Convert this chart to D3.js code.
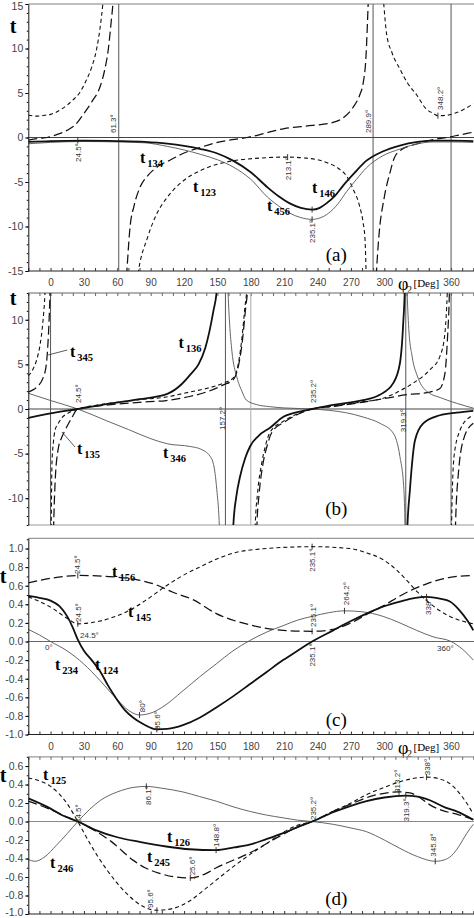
<!DOCTYPE html>
<html>
<head>
<meta charset="utf-8">
<script src="https://cdn.jsdelivr.net/npm/d3@7/dist/d3.min.js"></script>
<style>
  html, body { margin: 0; padding: 0; background: #fff; }
  svg { display: block; }
</style>
</head>
<body>
<div id="chart"></div>
<script>
// ---- data: [phi2 in degrees, t] ----
const xTickVals = [0, 30, 60, 90, 120, 150, 180, 210, 240, 270, 300, 360];

// panel (a)
const a_t123_1 = [[-20,2.5],[-12,2.4],[-5,2.5],[0,2.6],[10,3.2],[20,4.2],[26,5.0],[32,6.4],[37,7.9],[41.5,10],[44.5,12.3],[47,15],[50,19.5]];
const a_t123_2 = [[74,-20],[79,-15],[87,-11.3],[95,-8.7],[105,-6.7],[120,-4.8],[135,-3.7],[150,-3.0],[165,-2.6],[190,-2.3],[213.1,-2.2],[228,-2.3],[240,-2.5],[250,-2.9],[258,-3.4],[266.4,-4.4],[272,-5.8],[278,-7.8],[281,-9.6],[282.7,-11.5],[283.6,-15],[284.3,-19]];
const a_t123_3 = [[297,19],[299.5,15],[302,11.7],[307,9.5],[314,7.7],[321,6.1],[329,4.8],[337,3.3],[344,2.7],[348.2,2.45],[356,2.5],[365,2.8],[372,3.2],[380,3.8]];
const a_t134_1 = [[-20,-0.3],[-10,-0.1],[-3,0],[5,0.3],[14.8,0.8],[22,1.4],[29.4,2.6],[37,4.0],[44.5,5.7],[48.5,7.5],[52,10],[54.5,13],[56,15],[58,20]];
const a_t134_2 = [[66,-20],[68.6,-15],[71.5,-10],[75,-7.7],[80.4,-5.6],[88,-4.2],[96,-3.3],[108,-2.5],[119,-1.8],[135,-1.1],[150,-0.55],[163,-0.25],[176.6,0],[195,0.55],[210,1.0],[235,1.35],[254,1.7],[264,2.3],[272,3.4],[278,4.8],[281,6.1],[283.5,9],[285.5,15],[287,20]];
const a_t134_3 = [[291,-20],[293,-15],[295,-11.3],[300,-6.7],[305,-4],[309,-2.3],[315,-1.4],[330,-0.7],[345,-0.2],[356,0],[368,0.3],[380,0.6]];
const a_t146 = [[-20,-0.5],[0,-0.4],[30,-0.35],[60,-0.4],[85,-0.5],[105,-0.7],[120,-0.95],[135,-1.3],[150,-1.8],[164,-2.6],[180,-3.9],[195,-5.6],[205,-6.6],[215,-7.4],[225,-7.9],[235.1,-8.1],[242,-7.9],[248,-7.4],[256,-6.5],[263,-5.4],[273,-4.0],[284,-2.6],[298,-1.6],[314,-0.9],[330,-0.5],[345,-0.35],[360,-0.35],[380,-0.4]];
const a_t456 = [[-20,-0.7],[0,-0.55],[30,-0.45],[60,-0.5],[85,-0.6],[105,-1.0],[120,-1.4],[135,-1.9],[150,-2.5],[164,-3.3],[180,-4.7],[195,-6.7],[205,-7.7],[215,-8.5],[225,-9.0],[235.1,-9.2],[243,-9.0],[250,-8.5],[258,-7.5],[266,-6.1],[275,-4.7],[284,-3.4],[298,-2.1],[314,-1.3],[330,-0.7],[345,-0.5],[360,-0.5],[380,-0.55]];

// panel (b)
const b_t136_1 = [[-20,-1.0],[0,-0.5],[24.5,0],[50,0.55],[80,1.1],[105,1.7],[118,2.8],[126,3.9],[133,5.0],[139,6.8],[146.4,11],[149.4,13.3],[150.5,16]];
const b_t136_2 = [[163,-18],[164.3,-13],[167,-9.8],[170.3,-7.6],[175,-5.5],[179.3,-4.2],[187,-3.0],[197.3,-2.1],[209,-0.9],[222,-0.35],[235.2,0],[254,0.45],[270,0.75],[281,1.0],[296,1.6],[308,2.9],[314,5.1],[317,9.6],[318.5,14],[319,18]];
const b_t136_3 = [[319.6,-18],[320.5,-14],[323,-9.1],[327.6,-3.5],[335,-1.6],[350,-0.7],[365,-0.4],[380,-0.2]];
const b_t346_1 = [[-20,1.76],[0,0.95],[24.5,0],[50,-1.3],[70,-2.3],[89.5,-3.3],[105,-3.9],[125.5,-4.2],[135,-4.5],[143.4,-5.3],[147,-6.5],[149.4,-9],[151.5,-12.5],[153,-18]];
const b_t346_2 = [[158.5,18],[159.6,13],[161,9.5],[163,6.5],[167.4,3.6],[172,2.0],[176,1.0],[185,0.5],[197,0.26],[210,0.12],[224,0.05],[235.2,0],[250,-0.15],[265,-0.4],[281,-0.9],[296,-1.6],[308,-2.7],[314,-5.3],[317.6,-9],[318.7,-14],[319.1,-18]];
const b_t346_3 = [[319.5,18],[320.3,14],[322,9],[325,5.9],[330,3.6],[337,2.1],[352,1.2],[366,0.6],[380,0.1]];
const b_t345_1 = [[-20,3.7],[-16,4.4],[-12.5,5.5],[-9.4,7.2],[-7,9.6],[-5,13],[-4,16]];
const b_t345_2 = [[0.2,-18],[0.6,-13],[1.3,-6],[2.5,-3.8],[4,-2.4],[7,-1.6],[10,-1.0],[16,-0.45],[24.5,0],[40,0.4],[60,0.75],[80,1.05],[104,1.35],[125,1.9],[140,2.3],[155.3,2.9],[164.3,3.5],[167.4,4.3],[171.8,7.7],[174.8,11.5],[176.3,13.3],[177.5,17]];
const b_t345_3 = [[183,-18],[184,-13],[186,-9.5],[189.8,-6.1],[193,-4.2],[197.3,-2.6],[209,-1.4],[224,-0.45],[235.2,0],[255,0.35],[280,0.8],[299,1.2],[315,2.1],[326,2.9],[341,4.4],[350,5.9],[354.5,8.5],[356.7,13.3],[357.7,17]];
const b_t345_4 = [[360.2,-18],[360.5,-12.8],[362.7,-5.3],[368,-2.4],[377,-0.9],[380,-0.7]];
const b_t135_1 = [[-20,1.9],[-15,2.2],[-11,2.6],[-7,3.4],[-4,4.8],[-2.5,7],[-1.3,10],[-0.5,13],[0,16]];
const b_t135_2 = [[2,-18],[2.8,-13],[4,-8.5],[6.7,-4.6],[10,-3.2],[13,-2.4],[19,-1.0],[24.5,0],[40,0.3],[60,0.55],[80,0.75],[104,0.95],[125,1.4],[140,1.9],[155.3,2.7],[164.3,3.3],[167.4,4.1],[172.5,7.7],[175.5,11.5],[177,13.3],[178,17]];
const b_t135_3 = [[184.5,-18],[185.5,-13],[187.5,-9.5],[191,-6.1],[194.5,-4.2],[199,-2.6],[211,-1.4],[225,-0.45],[235.2,0],[255,0.3],[280,0.75],[299,1.15],[320,1.6],[341,1.9],[350,2.3],[354.5,4.0],[356.7,7.7],[358.5,13],[359.2,17]];
const b_t135_4 = [[363,-18],[364,-13],[366.6,-7.2],[372,-3.1],[380,-1.6]];

// panel (c)
const c_t156 = [[-20,0.63],[0,0.68],[24.5,0.71],[50,0.70],[75,0.67],[95,0.61],[110,0.53],[128,0.45],[149,0.3],[179,0.18],[209,0.12],[235.1,0.11],[254,0.13],[270,0.2],[284,0.29],[300,0.39],[314,0.49],[338,0.62],[359,0.69],[380,0.71]];
const c_t145 = [[-20,0.48],[-10,0.43],[0,0.37],[14.8,0.25],[24.5,0.19],[35,0.2],[44.5,0.22],[56,0.26],[68.5,0.32],[86.4,0.45],[102.9,0.59],[122,0.73],[134,0.8],[150,0.89],[164,0.95],[194,1.0],[235.1,1.02],[269,1.0],[285,0.95],[299,0.88],[310,0.78],[320,0.66],[330,0.53],[341,0.41],[350,0.33],[359,0.27],[370,0.22],[380,0.19]];
const c_t124 = [[-20,0.49],[-10,0.47],[0,0.44],[8,0.38],[15,0.27],[20,0.15],[24.5,0.02],[30,-0.1],[37,-0.2],[44.5,-0.32],[52,-0.48],[59.5,-0.62],[67,-0.74],[74.4,-0.82],[82,-0.88],[89.4,-0.925],[95.6,-0.945],[105,-0.94],[119,-0.9],[134,-0.82],[149,-0.71],[164,-0.59],[179,-0.46],[194,-0.33],[209,-0.2],[222,-0.1],[235.1,0],[254,0.12],[270,0.22],[284,0.30],[300,0.38],[314,0.43],[328,0.47],[338,0.48],[350,0.46],[359,0.43],[368,0.33],[375,0.22],[380,0.12]];
const c_t234 = [[-20,0.13],[-10,0.07],[0,0.0],[14.8,-0.1],[29.7,-0.24],[44.5,-0.42],[59.5,-0.62],[70,-0.74],[80,-0.79],[90,-0.77],[100,-0.71],[119,-0.53],[134,-0.38],[149,-0.24],[164,-0.1],[179,0.01],[194,0.1],[209,0.17],[222,0.23],[235,0.27],[250,0.31],[264.2,0.33],[280,0.32],[299,0.27],[314,0.2],[329,0.12],[344,0.05],[360,0],[370,-0.08],[380,-0.2]];

// panel (d)
const d_t125 = [[-20,0.47],[-10,0.44],[0,0.38],[14.5,0.2],[24.5,0],[35.5,-0.24],[50.5,-0.52],[68.5,-0.78],[83.4,-0.92],[95.6,-0.96],[110,-0.94],[125,-0.86],[140,-0.72],[164,-0.49],[180,-0.35],[194,-0.24],[210,-0.11],[222,-0.04],[235.2,0],[254,0.11],[270,0.2],[284,0.29],[300,0.37],[314,0.43],[328,0.47],[338,0.48],[350,0.46],[359,0.41],[368,0.3],[374,0.2],[380,0.08]];
const d_t245 = [[-20,0.22],[0,0.13],[14.5,0.05],[24.5,0],[40,-0.1],[55,-0.22],[74.4,-0.42],[85,-0.5],[98,-0.56],[112,-0.6],[125.6,-0.61],[140,-0.56],[149,-0.5],[160,-0.44],[170,-0.39],[179,-0.34],[194,-0.24],[209,-0.14],[222,-0.06],[235.2,0],[254,0.11],[270,0.19],[290,0.28],[313.2,0.32],[323,0.31],[333,0.25],[341,0.18],[352,0.12],[365,0.08],[380,0.02]];
const d_t126 = [[-20,0.25],[0,0.14],[10,0.07],[24.5,0],[40,-0.09],[60,-0.17],[80,-0.22],[104,-0.27],[125,-0.3],[148.8,-0.31],[165,-0.28],[179,-0.25],[194,-0.19],[209,-0.126],[222,-0.06],[235.2,0],[254,0.1],[270,0.17],[284,0.22],[300,0.26],[319.3,0.28],[330,0.27],[341,0.23],[355,0.15],[365,0.11],[380,0.02]];
const d_t246 = [[-20,-0.41],[-14.2,-0.43],[-5,-0.38],[5,-0.26],[15,-0.13],[24.5,0],[35,0.13],[45,0.23],[60,0.32],[75,0.37],[86.1,0.38],[100,0.36],[119,0.32],[134,0.27],[149,0.22],[164,0.16],[179,0.11],[194,0.07],[209,0.04],[222,0.015],[235.2,0],[254,-0.03],[270,-0.07],[284,-0.11],[300,-0.2],[314,-0.29],[330,-0.38],[345.8,-0.43],[355,-0.41],[362,-0.35],[368,-0.25],[374,-0.13],[380,-0.03]];

// curve names: [phi2, t, subscript]
const namesA = [[80.4,-2.87,'134'],[128,-6.12,'123'],[235,-6.24,'146'],[194.6,-8.26,'456']];
const namesB = [[17.5,5.83,'345'],[115,6.84,'136'],[23.8,-5.04,'135'],[101,-5.49,'346']];
const namesC = [[55.3,0.69,'156'],[69.7,0.263,'145'],[4,-0.306,'234'],[40,-0.306,'124']];
const namesD = [[-6.7,0.449,'125'],[104.7,-0.222,'126'],[86.7,-0.438,'245'],[-0.45,-0.503,'246']];

// angle notes: [phi2, t at text start, text, rotated?]
const notesA = [[24.5,-2.75,'24.5°',1],[56.2,0.5,'61.3°',1],[213.5,-4.8,'213.1°',1],[235,-11.85,'235.1°',1],[285.4,0.5,'289.9°',1],[350,3.1,'348.2°',1]];
const notesB = [[24.5,0.67,'24.5°',1],[153.9,-2.35,'157.2°',1],[236,0.67,'235.2°',1],[316.6,-2.6,'319.3°',1]];
const notesC = [[24,0.726,'24.5°',1],[24.5,0.21,'24.5°',1],[26.5,0.04,'24.5°',0],[-5,-0.09,'0°',0],[234.8,0.75,'235.1°',1],[236,0.156,'235.1°',1],[266,0.39,'264.2°',1],[339.3,0.285,'338°',1],[235,-0.27,'235.1°',1],[347.4,-0.1,'360°',0],[82,-0.76,'80°',1],[95.7,-0.95,'95.6°',1]];
const notesD = [[24.5,-0.016,'24.5°',1],[87.6,0.18,'86.1°',1],[148.8,-0.276,'148.8°',1],[126.9,-0.63,'125.6°',1],[89.4,-0.935,'95.6°',1],[236,0.016,'235.2°',1],[311.5,0.31,'313.2°',1],[338.2,0.5,'338°',1],[319.5,0,'319.3°',1],[343.8,-0.38,'345.8°',1]];

// small tick marks on curves: [phi2, t]
const marksA = [[24.5,-0.35],[213.1,-2.2],[235.1,-8.1],[235.1,-9.2],[348.2,2.45]];
const marksC = [[24.5,0.71],[24.5,0.19],[235.1,1.02],[235.1,0.11],[264.2,0.33],[338,0.48],[80,-0.79],[95.6,-0.945]];
const marksD = [[86.1,0.38],[148.8,-0.31],[125.6,-0.61],[95.6,-0.96],[313.2,0.32],[338,0.48],[319.3,0.28],[345.8,-0.43]];

// ---- drawing ----
const W = 474, H = 918;
const LEFT = 28.3;
const x = d3.scaleLinear().domain([-20, 380]).range([LEFT, 473.3]);

const styles = {
  thick: { w: 1.8, c: '#111', dash: null },
  thin:  { w: 0.9, c: '#555', dash: null },
  long:  { w: 1.25, c: '#111', dash: '9,4' },
  short: { w: 1.1, c: '#111', dash: '4,3' }
};

const panels = [
  { id: 'a', top: 4, bottom: 271, domain: [-15, 15], yTicks: [-15,-10,-5,0,5,10,15], minor: d3.range(-15, 15.01, 1),
    fmt: v => String(v), topTicks: false, topColor: '#aaa', bottomColor: '#222', bottomTicks: true, xLabels: true,
    vlines: [[61.3,'#555'],[289.9,'#555'],[360,'#555']], zero: '#444', tY: 33, tX: 13, name: '(a)', nameAt: [256.8,-13.9],
    series: [
      { s: 'short', segs: [a_t123_1, a_t123_2, a_t123_3] },
      { s: 'long',  segs: [a_t134_1, a_t134_2, a_t134_3] },
      { s: 'thin',  segs: [a_t456] },
      { s: 'thick', segs: [a_t146] }
    ], names: namesA, notes: notesA, marks: marksA },
  { id: 'b', top: 293, bottom: 525, domain: [-13, 13], yTicks: [-10,-5,0,5,10], minor: d3.range(-13, 13.01, 1),
    fmt: v => String(v), topTicks: true, topColor: '#999', bottomColor: '#999', bottomTicks: false, xLabels: false,
    vlines: [[0,'#555'],[157.2,'#555'],[180,'#aaa'],[319.3,'#555'],[360,'#555']], zero: '#444', tY: 305, tX: 13, name: '(b)', nameAt: [256.8,-11.9],
    series: [
      { s: 'short', segs: [b_t345_1, b_t345_2, b_t345_3, b_t345_4] },
      { s: 'long',  segs: [b_t135_1, b_t135_2, b_t135_3, b_t135_4] },
      { s: 'thin',  segs: [b_t346_1, b_t346_2, b_t346_3] },
      { s: 'thick', segs: [b_t136_1, b_t136_2, b_t136_3] }
    ], names: namesB, notes: notesB, marks: [],
    pointers: [[[-2.2,6.05],[15,6.61]], [[10.3,-2.58],[22,-4.26]]] },
  { id: 'c', top: 538.3, bottom: 734.5, domain: [-1, 1.11], yTicks: d3.range(-1, 1.01, 0.2).map(v => +v.toFixed(1)), minor: d3.range(-1, 1.11, 0.1),
    fmt: v => v.toFixed(1), topTicks: false, topColor: '#999', bottomColor: '#222', bottomTicks: true, xLabels: true,
    vlines: [], zero: '#666', tY: 583, tX: 3, name: '(c)', nameAt: [256.8,-0.909],
    series: [
      { s: 'long',  segs: [c_t156] },
      { s: 'short', segs: [c_t145] },
      { s: 'thin',  segs: [c_t234] },
      { s: 'thick', segs: [c_t124] }
    ], names: namesC, notes: notesC, marks: marksC },
  { id: 'd', top: 756.8, bottom: 914, domain: [-1, 0.7], yTicks: d3.range(-1, 0.61, 0.2).map(v => +v.toFixed(1)), minor: d3.range(-1, 0.71, 0.1),
    fmt: v => v.toFixed(1), topTicks: true, topColor: '#999', bottomColor: '#222', bottomTicks: true, xLabels: false,
    vlines: [], zero: '#888', tY: 782, tX: 3, name: '(d)', nameAt: [256.8,-0.902],
    series: [
      { s: 'short', segs: [d_t125] },
      { s: 'long',  segs: [d_t245] },
      { s: 'thin',  segs: [d_t246] },
      { s: 'thick', segs: [d_t126] }
    ], names: namesD, notes: notesD, marks: marksD }
];

const svg = d3.select('#chart').append('svg')
  .attr('width', W).attr('height', H)
  .attr('viewBox', `0 0 ${W} ${H}`);

const SANS = "'Liberation Sans', Arial, sans-serif";
const SERIF = "'Liberation Serif', 'Times New Roman', serif";

panels.forEach(p => {
  const y = d3.scaleLinear().domain(p.domain).range([p.bottom, p.top]);
  const g = svg.append('g').attr('class', 'panel-' + p.id);

  g.append('clipPath').attr('id', 'clip-' + p.id)
    .append('rect').attr('x', LEFT).attr('y', p.top)
    .attr('width', W - LEFT).attr('height', p.bottom - p.top);

  // top border
  g.append('line').attr('x1', LEFT).attr('x2', W).attr('y1', p.top).attr('y2', p.top)
    .attr('stroke', p.topColor).attr('stroke-width', 1.3);
  if (p.topTicks) {
    g.append('g').attr('transform', `translate(0,${p.top})`)
      .call(d3.axisBottom(x).tickValues(d3.range(-20, 381, 10)).tickSize(3).tickSizeOuter(0).tickFormat(''))
      .call(a => a.select('.domain').remove())
      .selectAll('line').attr('stroke', '#666');
  }
  // bottom border / axis
  g.append('line').attr('x1', LEFT).attr('x2', W).attr('y1', p.bottom).attr('y2', p.bottom)
    .attr('stroke', p.bottomColor).attr('stroke-width', 1.2);
  if (p.bottomTicks) {
    g.append('g').attr('transform', `translate(0,${p.bottom})`)
      .call(d3.axisTop(x).tickValues(d3.range(-20, 381, 10)).tickSize(3).tickSizeOuter(0).tickFormat(''))
      .call(a => a.select('.domain').remove())
      .selectAll('line').attr('stroke', '#333');
  }
  if (p.xLabels) {
    const ax = g.append('g').attr('transform', `translate(0,${p.bottom + 5})`)
      .call(d3.axisBottom(x).tickValues(xTickVals).tickSize(0).tickFormat(d3.format('d')))
      .call(a => a.select('.domain').remove());
    ax.attr('font-family', SANS).attr('font-size', 10);
    ax.selectAll('text').attr('fill', '#444');
    // phi_2 [Deg]
    const lab = g.append('g').attr('transform', `translate(0,${p.bottom})`).attr('font-family', SERIF);
    lab.append('text').attr('x', 398).attr('y', 19).attr('font-size', 18).text('φ');
    lab.append('text').attr('x', 407).attr('y', 22).attr('font-size', 10).text('2');
    lab.append('text').attr('x', 413.5).attr('y', 16).attr('font-size', 11).text('[Deg]');
  }

  // zero line and vertical lines
  g.append('line').attr('x1', LEFT).attr('x2', W).attr('y1', y(0)).attr('y2', y(0))
    .attr('stroke', p.zero).attr('stroke-width', 1);
  p.vlines.forEach(([d, col]) => {
    g.append('line').attr('x1', x(d)).attr('x2', x(d)).attr('y1', p.top).attr('y2', p.bottom)
      .attr('stroke', col).attr('stroke-width', 1);
  });

  // curves
  const line = d3.line().x(d => x(d[0])).y(d => y(d[1])).curve(d3.curveMonotoneX);
  const cg = g.append('g').attr('clip-path', `url(#clip-${p.id})`);
  p.series.forEach(se => {
    const st = styles[se.s];
    se.segs.forEach(seg => {
      cg.append('path').attr('d', line(seg)).attr('fill', 'none')
        .attr('stroke', st.c).attr('stroke-width', st.w)
        .attr('stroke-dasharray', st.dash).attr('stroke-linejoin', 'round');
    });
  });

  // marks on curves
  cg.selectAll('line.mark').data(p.marks).join('line').attr('class', 'mark')
    .attr('x1', d => x(d[0])).attr('x2', d => x(d[0]))
    .attr('y1', d => y(d[1]) - 3).attr('y2', d => y(d[1]) + 3)
    .attr('stroke', '#222').attr('stroke-width', 0.9);

  // left axis
  const ya = g.append('g').attr('transform', `translate(${LEFT},0)`)
    .call(d3.axisLeft(y).tickValues(p.yTicks).tickFormat(p.fmt).tickSize(3).tickSizeOuter(0).tickPadding(2));
  ya.attr('font-family', SANS).attr('font-size', 10.5);
  ya.selectAll('text').attr('fill', '#444');
  ya.select('.domain').attr('stroke', '#111');
  // keep the edge labels inside the picture
  ya.selectAll('.tick text').attr('dy', function () {
    const ty = +this.parentNode.getAttribute('transform').match(/,([\-\d.]+)/)[1];
    if (ty < 8) return '0.55em';
    if (ty > H - 8) return '0.15em';
    return '0.32em';
  });
  g.append('g').attr('transform', `translate(${LEFT},0)`)
    .call(d3.axisLeft(y).tickValues(p.minor).tickFormat('').tickSize(1.5).tickSizeOuter(0))
    .call(a => a.select('.domain').remove());

  // y label "t"
  g.append('text').attr('x', p.tX).attr('y', p.tY).attr('text-anchor', 'middle')
    .attr('font-family', SERIF).attr('font-weight', 'bold').attr('font-size', 20).text('t');

  // angle notes
  p.notes.forEach(([d, v, txt, rot]) => {
    const t = g.append('text').attr('font-family', SANS).attr('font-size', 8).attr('fill', '#333').text(txt);
    if (rot) t.attr('transform', `translate(${x(d)},${y(v)}) rotate(-90)`).attr('dy', '0.35em');
    else t.attr('x', x(d)).attr('y', y(v));
  });

  // pointer lines
  (p.pointers || []).forEach(pt => {
    g.append('line').attr('x1', x(pt[0][0])).attr('y1', y(pt[0][1]))
      .attr('x2', x(pt[1][0])).attr('y2', y(pt[1][1]))
      .attr('stroke', '#333').attr('stroke-width', 0.8);
  });

  // curve names
  p.names.forEach(([d, v, sub]) => {
    const t = g.append('text').attr('x', x(d)).attr('y', y(v)).attr('font-family', SERIF).attr('fill', '#000');
    t.append('tspan').attr('font-size', 16).attr('font-weight', 'bold').text('t');
    t.append('tspan').attr('font-size', 10.5).attr('dx', 2).attr('dy', 4).attr('font-weight', 'bold').text(sub);
  });

  // panel name
  g.append('text').attr('x', x(p.nameAt[0])).attr('y', y(p.nameAt[1])).attr('text-anchor', 'middle')
    .attr('font-family', SERIF).attr('font-size', 19).text(p.name);
});
</script>
</body>
</html>
